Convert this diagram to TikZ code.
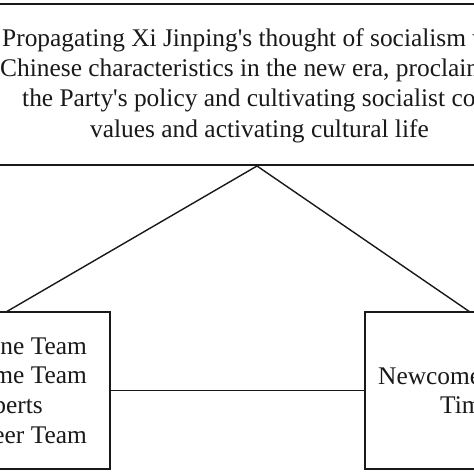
\documentclass[tikz,border=0pt]{standalone}
\usepackage{fontspec}
\setmainfont{Liberation Serif}
\begin{document}
\begin{tikzpicture}[x=1pt,y=-1pt,
  box/.style={draw=black!90, line width=1.4pt, rectangle, inner sep=0pt},
  conn/.style={draw=black!90, line width=1.4pt},
  txt/.style={inner sep=0pt, font=\fontsize{25.4}{30}\selectfont, text=black!90}]
\useasboundingbox (0,0) rectangle (474,474);
\clip (0,0) rectangle (474,474);
\fill[white] (0,0) rectangle (474,474);
% top box
\node[box, minimum width=560pt, minimum height=161pt] (top) at (250,84.5) {};
\node[txt, anchor=base west] (t1) at (2,46.7) {Propagating Xi Jinping\textquotesingle s thought of socialism w};
\node[txt, anchor=base west] (t2) at (0,76.5) {Chinese characteristics in the new era, proclaim};
\node[txt, anchor=base west] (t3) at (22,106.5) {the Party\textquotesingle s policy and cultivating socialist co};
\node[txt, anchor=base west] (t4) at (90,137) {values and activating cultural life};
% bottom boxes
\node[box, minimum width=180pt, minimum height=157pt] (left) at (20,390.5) {};
\node[box, minimum width=180pt, minimum height=157pt] (right) at (455,390.5) {};
\node[txt, anchor=base east] (l1) at (87,354) {ne Team};
\node[txt, anchor=base east] (l2) at (87,383.5) {me Team};
\node[txt, anchor=base east] (l3) at (43,413) {berts};
\node[txt, anchor=base east] (l4) at (87,443) {eer Team};
\node[txt, anchor=base west] (r1) at (378,384) {Newcome};
\node[txt, anchor=base west] (r2) at (440,413.5) {Tim};
% connectors
\coordinate (apex) at (257,166);
\coordinate (lt) at (6,312);
\coordinate (rt) at (470,312);
\draw[conn, line join=miter] (lt) -- (apex) -- (rt);
\draw[conn] (left.east) -- (right.west);
\end{tikzpicture}
\end{document}
